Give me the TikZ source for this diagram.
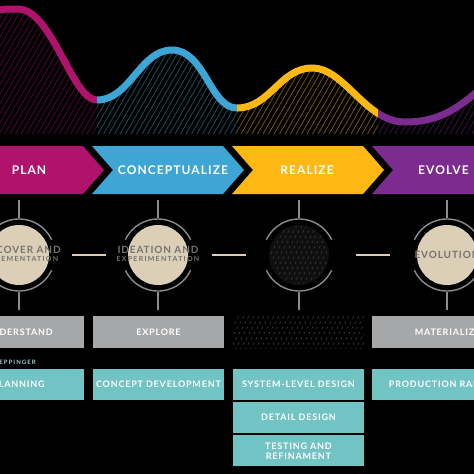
\documentclass[tikz,border=0pt]{standalone}
\usepackage{fontspec}
\setmainfont{Lato}
\newfontfamily\phasefont{Lato}[LetterSpace=9]
\newfontfamily\widefont{Lato}[LetterSpace=18]
\usetikzlibrary{positioning,calc}
\definecolor{plancol}{HTML}{B0136B}
\definecolor{conccol}{HTML}{3EA6D5}
\definecolor{realcol}{HTML}{FDB814}
\definecolor{evolcol}{HTML}{7B2C8E}
\definecolor{discol}{HTML}{DCCFB8}
\definecolor{ringcol}{HTML}{8C8C8C}
\definecolor{boxgray}{HTML}{A6A7A9}
\definecolor{boxteal}{HTML}{72C4C4}
\definecolor{disctext}{HTML}{77736D}
\definecolor{dashcol}{HTML}{3A3A3A}
\definecolor{credcol}{HTML}{A9CFCF}
% the wave along the top
\newcommand\wavepath{(-20,16) .. controls (0,9) .. (18,9)
  .. controls (52,9) and (72,100) .. (97,100)
  .. controls (130,100) and (140,50) .. (172,50)
  .. controls (205,50) and (210,108) .. (237,108)
  .. controls (270,108) and (280,68) .. (312,68)
  .. controls (345,68) and (365,122) .. (405,122)
  .. controls (440,122) and (460,108) .. (490,80)}
\begin{document}
\begin{tikzpicture}[x=1pt,y=-1pt,
  phase/.style={text=white,font=\phasefont\bfseries\fontsize{12}{12}\selectfont},
  disc/.style={circle,fill=discol,minimum size=60pt,inner sep=0pt},
  ring/.style={draw=ringcol,line width=1.4pt},
  linkline/.style={draw=discol,line width=2pt},
  disctxt/.style={text=disctext,inner sep=0pt,font=\phasefont\bfseries\fontsize{10}{10}\selectfont},
  discsub/.style={text=disctext,inner sep=0pt,font=\widefont\bfseries\fontsize{7}{7}\selectfont},
  graybox/.style={fill=boxgray,text=white,minimum width=131pt,minimum height=32pt,inner sep=0pt,
    align=center,font=\phasefont\bfseries\fontsize{9}{10}\selectfont},
  tealbox/.style={graybox,fill=boxteal,minimum height=31pt},
  dashes/.style={draw=dashcol,line width=.7pt,dash pattern=on 2.5pt off 3.5pt},
  credit/.style={text=credcol,inner sep=0pt,font=\widefont\bfseries\fontsize{6}{6}\selectfont}]
  \clip (0,0) rectangle (474,474);
  \fill[black] (0,0) rectangle (474,474);

  % wave, hatched below
  \foreach \col/\xa/\xb in {plancol/-20/97,conccol/97/237,realcol/237/378,evolcol/378/490} {
    \begin{scope}
      \clip (\xa,0) rectangle (\xb,140);
      \begin{scope}
        \clip \wavepath -- (490,134) -- (-20,134) -- cycle;
        \foreach \x in {-100,-94.5,...,490}
          \draw[\col!50!black,line width=.7pt] (\x,134) -- ++(75,-130);
      \end{scope}
      \draw[\col,line width=7pt] \wavepath;
    \end{scope}
  }

  % chevrons
  \foreach \col [count=\i from 0] in {plancol,conccol,realcol,evolcol} {
    \pgfmathsetmacro\xl{-48+140*\i}
    \fill[\col] (\xl,146) -- ++(131,0) -- ++(21,24) -- ++(-21,24) -- ++(-131,0) -- ++(21,-24) -- cycle;
  }
  \node[phase] (plan) at (29,170) {PLAN};
  \node[phase] (concept) at (173,170) {CONCEPTUALIZE};
  \node[phase] (realize) at (307,170) {REALIZE};
  \node[phase,anchor=west,inner sep=0pt] (evolve) at (418,170) {EVOLVE};

  % discs
  \node[disc] (d1) at (19,255) {};
  \node[disc] (d2) at (158,255) {};
  \node[disc,fill=black!94] (d3) at (299,255) {};
  \node[disc] (d4) at (447,255) {};
  \begin{scope}
    \clip (d3) circle (29);
    \foreach \x in {230,235,...,360}
      \draw[dashes] (\x,290) -- ++(40,-70);
  \end{scope}
  \foreach \d in {d1,d2,d3,d4} {
    \draw[ring] (\d.center) ++(25:36) arc[start angle=25,end angle=155,radius=36];
    \draw[ring] (\d.center) ++(205:36) arc[start angle=205,end angle=335,radius=36];
    \draw[ring] ([yshift=55pt]\d.center) -- ([yshift=37pt]\d.center);
    \draw[ring] ([yshift=-37pt]\d.center) -- ([yshift=-55pt]\d.center);
  }
  \foreach \a/\b in {d1/d2,d2/d3,d3/d4}
    \draw[linkline] ($(\a)!.5!(\b)+(-17,0)$) -- ($(\a)!.5!(\b)+(17,0)$);

  \node[disctxt] (t1a) at (19,250) {DISCOVER AND};
  \node[discsub] (t1b) at (19,259) {IMPLEMENTATION};
  \node[disctxt] (t2a) at (158,250) {IDEATION AND};
  \node[discsub] (t2b) at (158,259) {EXPERIMENTATION};
  \node[disctxt] (t4) at (447,255) {EVOLUTION};

  % activity boxes
  \node[graybox] (b1) at (18.5,332) {UNDERSTAND};
  \node[graybox] (b2) at (158.5,332) {EXPLORE};
  \node[graybox,fill=none] (b3) at (298.5,332) {};
  \begin{scope}
    \clip (b3.north west) rectangle (b3.south east);
    \foreach \x in {220,225,...,370}
      \draw[dashes] (\x,350) -- ++(20,-36);
  \end{scope}
  \node[graybox,minimum width=151pt] (b4) at (447.5,332) {MATERIALIZE};

  \node[credit,anchor=east] (cred) at (36,362) {ULRICH \& EPPINGER};

  \node[tealbox] (c1) at (18.5,384) {PLANNING};
  \node[tealbox] (c2) at (158.5,384) {CONCEPT DEVELOPMENT};
  \node[tealbox] (c3) at (298.5,384) {SYSTEM-LEVEL DESIGN};
  \node[tealbox,below=2pt of c3] (c3b) {DETAIL DESIGN};
  \node[tealbox,below=2pt of c3b] (c3c) {TESTING AND\\REFINAMENT};
  \node[tealbox,minimum width=151pt] (c4) at (447.5,384) {PRODUCTION RAMP-UP};
\end{tikzpicture}
\end{document}
